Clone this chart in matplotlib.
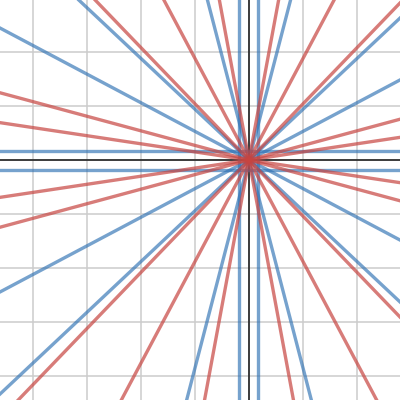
import matplotlib
matplotlib.use("Agg")
import matplotlib.pyplot as plt
import numpy as np

blue_slopes = [0.53, -0.53, 0.94, -0.94, 3.85, -3.85]
blue_horizontal = [0.167, -0.185]
blue_vertical = [-0.185, 0.167]
red_slopes = [0.15, -0.15, 0.27, -0.27, 1.04, -1.04, 1.88, -1.88, 5.4, -5.4]

BLUE = "#2d70b3"
RED = "#c74440"
u = 54.0
xlim = (-249 / u, 151 / u)
ylim = (-240 / u, 160 / u)

fig = plt.figure(figsize=(4, 4), dpi=100)
ax = fig.add_axes([0, 0, 1, 1])
ax.set_xlim(*xlim)
ax.set_ylim(*ylim)
for g in range(-5, 4):
    ax.axvline(g, color="#cccccc", lw=1.1, zorder=0)
    ax.axhline(g, color="#cccccc", lw=1.1, zorder=0)
ax.axvline(0, color="#222222", lw=1.2, zorder=1)
ax.axhline(0, color="#222222", lw=1.2, zorder=1)

xs = np.array([-6, 4])
for m in blue_slopes:
    ax.plot(xs, m * xs, color=BLUE, lw=2.4, alpha=0.65, zorder=2, solid_capstyle="butt")
for y in blue_horizontal:
    ax.axhline(y, color=BLUE, lw=2.4, alpha=0.65, zorder=2)
for x in blue_vertical:
    ax.axvline(x, color=BLUE, lw=2.4, alpha=0.65, zorder=2)
for m in red_slopes:
    ax.plot(xs, m * xs, color=RED, lw=2.4, alpha=0.7, zorder=3, solid_capstyle="butt")
ax.set_xticks([]); ax.set_yticks([])
for s in ax.spines.values():
    s.set_visible(False)
fig.savefig("out.png", dpi=100)
